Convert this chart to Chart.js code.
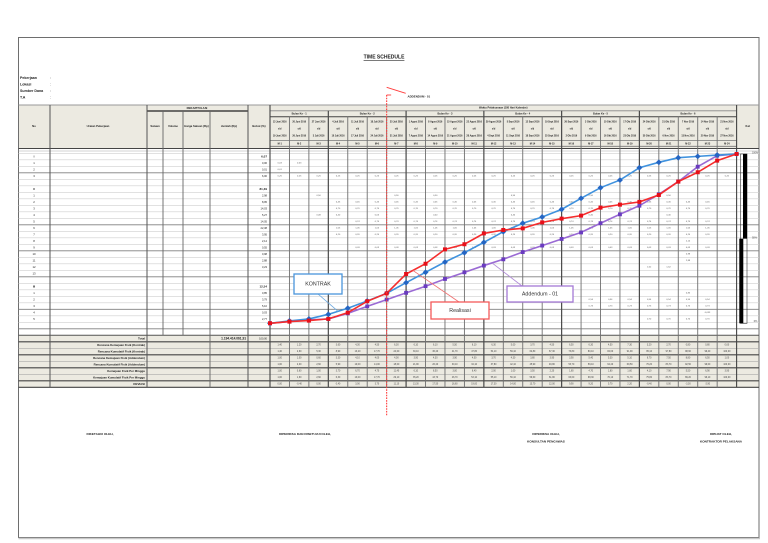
<!DOCTYPE html>
<html><head><meta charset="utf-8"><title>Time Schedule</title>
<script src="https://cdn.jsdelivr.net/npm/chart.js@4.4.1/dist/chart.umd.min.js"></script>
<style>
html,body{margin:0;padding:0;background:#fff;overflow:hidden;}
canvas{display:block;}
</style></head><body>
<canvas id="c" width="768" height="543"></canvas>
<script>
// ---------- DATA ----------
const weekLabels = ["M-1","M-2","M-3","M-4","M-5","M-6","M-7","M-8","M-9","M-10","M-11","M-12","M-13","M-14","M-15","M-16","M-17","M-18","M-19","M-20","M-21","M-22","M-23","M-24"];
const weekStart = ["13 Juni 2016","20 Juni 2016","27 Juni 2016","4 Juli 2016","11 Juli 2016","18 Juli 2016","25 Juli 2016","1 Agust 2016","8 Agust 2016","15 Agust 2016","22 Agust 2016","29 Agust 2016","5 Sept 2016","12 Sept 2016","19 Sept 2016","26 Sept 2016","3 Okt 2016","10 Okt 2016","17 Okt 2016","24 Okt 2016","31 Okt 2016","7 Nov 2016","14 Nov 2016","21 Nov 2016"];
const weekEnd = ["19 Juni 2016","26 Juni 2016","3 Juli 2016","10 Juli 2016","17 Juli 2016","24 Juli 2016","31 Juli 2016","7 Agust 2016","14 Agust 2016","21 Agust 2016","28 Agust 2016","4 Sept 2016","11 Sept 2016","18 Sept 2016","25 Sept 2016","2 Okt 2016","9 Okt 2016","16 Okt 2016","23 Okt 2016","30 Okt 2016","6 Nov 2016","13 Nov 2016","20 Nov 2016","27 Nov 2016"];
const monthLabels = ["Bulan Ke - 1","Bulan Ke - 2","Bulan Ke - 3","Bulan Ke - 4","Bulan Ke - 5","Bulan Ke - 6"];
const monthWeeks = [3,4,4,4,4,5];

// cumulative progress (%) at week boundaries 0..24
const kontrak   = [0,1.4,2.6,5.3,8.9,13.2,17.7,24.0,30.1,36.2,41.7,47.8,54.1,59.1,62.8,67.3,73.8,80.1,84.6,91.9,95.1,97.8,98.6,99.4,100];
const addendum  = [0,1.0,2.0,2.6,5.9,10.0,14.0,18.0,21.9,26.2,30.1,34.1,37.8,42.1,45.9,49.8,53.7,59.1,64.4,69.5,76.2,83.7,92.5,99.0,100];
const realisasi = [0,1.0,1.6,2.6,6.3,13.0,17.7,29.1,35.2,43.7,46.7,53.1,55.1,56.1,59.6,61.8,63.6,68.3,70.1,71.7,75.8,83.7,89.2,96.1,100];

const infoLabels = ["Pekerjaan","Lokasi","Sumber Dana","T.A"];
const colHeaders = ["No","Uraian Pekerjaan","Satuan","Volume","Harga Satuan (Rp)","Jumlah (Rp)","Bobot (%)"];
const rowNumbers = ["I","1","2","3","","II","1","2","3","4","5","6","7","8","9","10","11","12","13","","III","1","2","3","4","5","",""];
const rowBobot   = ["6,07","0,06","0,01","6,00","","81,39","2,98","8,95","14,03","5,27","14,05","22,38","3,95","2,14","0,55","0,98","2,88","3,23","","","12,54","0,85","3,79","5,10","0,03","2,77","",""];
const groupRows = [0,5,20];
// [row, first week, last week, value] of the small weekly cells
const itemCells = [
 [1,0,1,"0,03"],[2,0,0,"0,01"],[3,0,23,"0,25"],
 [6,2,2,"0,50"],[6,6,6,"0,50"],[6,8,8,"0,50"],[6,12,12,"0,50"],[6,16,16,"0,50"],[6,20,20,"0,50"],
 [7,3,22,"0,45"],[8,3,22,"0,70"],
 [9,2,2,"0,08"],[9,3,3,"0,40"],[9,5,5,"0,03"],[9,8,8,"0,40"],[9,12,12,"0,40"],[9,16,16,"0,40"],[9,20,20,"0,40"],
 [10,4,22,"0,74"],[11,3,22,"1,05"],[12,3,22,"0,20"],[13,21,21,"2,14"],[14,4,22,"0,03"],
 [15,21,21,"0,98"],[16,21,21,"2,88"],[17,19,20,"1,62"],
 [21,21,21,"0,85"],[22,16,22,"0,54"],[23,16,22,"0,73"],[24,22,22,"0,033"],[25,19,22,"0,70"]
];
const bottomLabels = ["Rencana Kemajuan Fisik (Kontrak)","Rencana Kumulatif Fisik (Kontrak)","Rencana Kemajuan Fisik (Addendum)","Rencana Kumulatif Fisik (Addendum)","Kemajuan Fisik Per Minggu","Kemajuan Kumulatif Fisik Per Minggu","DEVIASI"];
const totalJumlah = "1.194.414.061,91";
const totalBobot = "100,00";
const signLines1 = ["DIKETAHUI OLEH,","DIPERIKSA DAN DISETUJUI OLEH,","DIPERIKSA OLEH,","DIBUAT OLEH,"];
const signLines2 = ["","","KONSULTAN PENGAWAS","KONTRAKTOR PELAKSANA"];

// ---------- DRAWING HELPERS ----------
const FONT = '"Liberation Sans", Arial, sans-serif';
const L=18.5, R=759, TOP=37.5, BOT=537.5;
const HT=105, HB=148.5, BT=153.3, RH=6.5, NR=28;
function txt(ctx,s,x,y,size,o){
  o=o||{}; ctx.save();
  ctx.font=(o.bold?'bold ':'')+size+'px '+FONT;
  ctx.fillStyle=o.color||'#222';
  ctx.textAlign=o.align||'center'; ctx.textBaseline='middle';
  ctx.fillText(s,x,y);
  if(o.underline){const w=ctx.measureText(s).width;const x0=o.align==='left'?x:(o.align==='right'?x-w:x-w/2);ctx.fillRect(x0,y+size*0.6,w,0.6);}
  ctx.restore();
}
function ln(ctx,x1,y1,x2,y2,c,w,d){
  ctx.save(); ctx.strokeStyle=c; ctx.lineWidth=w; if(d)ctx.setLineDash(d);
  ctx.beginPath(); ctx.moveTo(x1,y1); ctx.lineTo(x2,y2); ctx.stroke(); ctx.restore();
}
const fmt = v => (Math.abs(v)<0.005?0:v).toFixed(2).replace('.',',');

const sheet = {
  id:'sheet',
  beforeDraw(chart){
    const ctx=chart.ctx, xs=chart.scales.x;
    const X=v=>xs.getPixelForValue(v);
    const nW=weekLabels.length, WL=X(0), WR=X(nW);
    const TB=BT+NR*RH, TE=TB+RH*(1+bottomLabels.length);
    ctx.save();
    ctx.fillStyle='#fff'; ctx.fillRect(0,0,768,543);
    ctx.fillStyle='#eceae1';
    ctx.fillRect(L,HT,R-L,HB-HT);
    ctx.fillRect(L,TB,R-L,TE-TB);
    ctx.restore();

    // title & info
    txt(ctx,'TIME SCHEDULE',384,57,5,{bold:true,underline:true});
    infoLabels.forEach((s,i)=>{
      txt(ctx,s,20,78+i*6.5,3.6,{bold:true,align:'left'});
      txt(ctx,':',50,78+i*6.5,3.6,{align:'left'});
    });

    // header texts
    const hx=[34,98,155,173,196.5,229,259];
    colHeaders.forEach((s,i)=>txt(ctx,s,hx[i],126,2.8,{bold:true}));
    txt(ctx,'REKAPITULASI',197,108,2.8,{bold:true});
    txt(ctx,'Waktu Pelaksanaan (180 Hari Kalender)',(WL+WR)/2,108,2.6,{bold:true});
    let m0=0;
    monthLabels.forEach((s,i)=>{txt(ctx,s,(X(m0)+X(m0+monthWeeks[i]))/2,114,2.6,{bold:true}); m0+=monthWeeks[i];});
    for(let i=0;i<nW;i++){
      const cx=(X(i)+X(i+1))/2;
      txt(ctx,weekStart[i],cx,122,2.3,{bold:true});
      txt(ctx,'s/d',cx,129,2.3,{bold:true});
      txt(ctx,weekEnd[i],cx,136,2.3,{bold:true});
      txt(ctx,weekLabels[i],cx,143.8,2.4,{bold:true});
    }
    txt(ctx,'Ket',(WR+R)/2,126,2.8,{bold:true});

    // body rows text
    rowNumbers.forEach((s,i)=>{
      const cy=BT+(i+0.5)*RH, g=groupRows.includes(i);
      txt(ctx,s,34,cy,2.8,{bold:g});
      if(rowBobot[i]) txt(ctx,rowBobot[i],267,cy,g?3:2.6,{bold:g,align:'right'});
    });
    itemCells.forEach(([r,a,b,v])=>{
      const cy=BT+(r+0.5)*RH;
      for(let c=a;c<=b;c++) txt(ctx,v,(X(c)+X(c+1))/2,cy,2.2,{color:'#555'});
    });

    // total & bottom table
    txt(ctx,'Total',145,TB+RH/2,3,{bold:true,align:'right'});
    txt(ctx,totalJumlah,246,TB+RH/2,3.2,{bold:true,align:'right'});
    txt(ctx,totalBobot,267,TB+RH/2,2.6,{align:'right'});
    const rows=[[],[],[],[],[],[],[]];
    for(let i=0;i<nW;i++){
      rows[0].push(fmt(kontrak[i+1]-kontrak[i]));
      rows[1].push(fmt(kontrak[i+1]));
      rows[2].push(fmt(addendum[i+1]-addendum[i]));
      rows[3].push(fmt(addendum[i+1]));
      rows[4].push(fmt(realisasi[i+1]-realisasi[i]));
      rows[5].push(fmt(realisasi[i+1]));
      rows[6].push(i<nW-1?fmt(realisasi[i+1]-addendum[i+1]):"");
    }
    bottomLabels.forEach((s,j)=>{
      const cy=TB+RH*(j+1.5);
      txt(ctx,s,145,cy,2.9,{bold:true,align:'right'});
      rows[j].forEach((v,i)=>txt(ctx,v,(X(i)+X(i+1))/2,cy,2.3,{color:'#444'}));
    });

    // signatures
    const sx=[100,305,546,721];
    signLines1.forEach((s,i)=>{txt(ctx,s,sx[i],434,3.1,{bold:true}); if(signLines2[i]) txt(ctx,signLines2[i],sx[i],441.7,3.1,{bold:true});});

    // ---------- grid lines ----------
    ctx.save(); ctx.strokeStyle='#6e6e6e'; ctx.lineWidth=1; ctx.strokeRect(L,TOP,R-L,BOT-TOP); ctx.restore();
    ln(ctx,L,BOT+1,R+1,BOT+1,'#c9c9c9',1.5);
    ln(ctx,L,HT,R,HT,'#999',1);
    ln(ctx,147,111,248,111,'#222',1.2);
    ln(ctx,WL,110.8,WR,110.8,'#888',0.8);
    ln(ctx,WL,116.8,WR,116.8,'#444',1);
    ln(ctx,WL,140.5,WR,140.5,'#777',0.8);
    ln(ctx,WL,146.3,WR,146.3,'#777',0.8);
    ln(ctx,L,HB,R,HB,'#444',1.1);
    ln(ctx,L,151,R,151,'#aaa',0.6);
    const darkRows=[3,11,15,19,24,27];
    for(let k=0;k<NR;k++){
      const y=BT+k*RH, d=darkRows.includes(k);
      ln(ctx,L,y,R,y,d?'#808080':'#d0d0d0',d?0.9:0.6);
    }
    ln(ctx,L,TB,R,TB,'#555',1);
    const thick=[1,3,5,7];
    for(let j=1;j<=bottomLabels.length+1;j++){
      const y=TB+RH*j, t=thick.includes(j)||j===bottomLabels.length+1;
      ln(ctx,L,y,R,y,t?'#444':'#aaa',t?1.1:0.6);
    }
    [50,147,248].forEach(x=>ln(ctx,x,HT,x,TE,'#555',1));
    [163,183].forEach(x=>ln(ctx,x,111,x,TB,'#666',0.9));
    ln(ctx,210,111,210,TE,'#666',0.9);
    ln(ctx,WL,HT,WL,TE,'#444',1.1);
    ln(ctx,WR,HT,WR,TE,'#444',1.1);
    let mb=0; const monthB=[];
    monthWeeks.forEach(w=>{mb+=w; monthB.push(mb);});
    for(let k=1;k<nW;k++){
      const isM=monthB.includes(k);
      ln(ctx,X(k),isM?110.8:116.8,X(k),TE,isM?'#4a4a4a':'#707070',isM?1.2:0.9);
    }
  },
  afterDatasetsDraw(chart){
    const ctx=chart.ctx, xs=chart.scales.x, ys=chart.scales.y;
    const X=v=>xs.getPixelForValue(v), Y=v=>ys.getPixelForValue(v);
    const xa=X(6);
    ln(ctx,xa,95,xa,416,'#ff3c3c',1.1,[1.6,1.1]);
    ln(ctx,xa,87.3,405.7,93.3,'#ff3c3c',0.9);
    ln(ctx,xa,95,xa+4.5,95,'#ff3c3c',0.9);
    txt(ctx,'ADDENDUM - 01',407.5,96.7,2.9,{bold:true,align:'left'});
    const at=(arr,v)=>{const i=Math.floor(v),f=v-i;return arr[i]+(arr[i+1]-arr[i])*f;};
    const callouts=[
      {t:'KONTRAK',x:294,y:274,w:48,h:20,c:'#4a95dc',lc:'#6aa8e0',from:[318,294],to:[3.5,at(kontrak,3.5)]},
      {t:'Realisasi',x:431,y:302,w:58,h:17,c:'#f55a5a',lc:'#f07070',from:[459,302],to:[7.35,at(realisasi,7.35)]},
      {t:'Addendum - 01',x:507,y:286,w:66,h:16,c:'#a57ad6',lc:'#b08ad8',from:[522,286],to:[11.42,at(addendum,11.42)]}
    ];
    callouts.forEach(o=>{
      ln(ctx,o.from[0],o.from[1],X(o.to[0]),Y(o.to[1]),o.lc,0.8);
      ctx.save(); ctx.fillStyle='#fff'; ctx.fillRect(o.x,o.y,o.w,o.h);
      ctx.strokeStyle=o.c; ctx.lineWidth=1.3; ctx.strokeRect(o.x,o.y,o.w,o.h); ctx.restore();
      txt(ctx,o.t,o.x+o.w/2,o.y+o.h/2,5.3,{color:'#333'});
    });
    ctx.save();
    ctx.strokeStyle='#333'; ctx.lineWidth=0.6;
    ctx.strokeRect(740.5,Y(100),6.5,Y(0)-Y(100));
    ctx.fillStyle='#000';
    ctx.fillRect(743,Y(100),4,Y(50)-Y(100));
    ctx.fillRect(739.3,Y(50),4,Y(0)-Y(50));
    ctx.restore();
    txt(ctx,'100%',755,Y(100)-1,2.4,{color:'#444'});
    txt(ctx,'50%',754.5,Y(50)-1,2.4,{color:'#444'});
    txt(ctx,'0%',755.5,Y(0)-2,2.4,{color:'#444'});
  }
};

const pts = arr => arr.map((v,i)=>({x:i,y:v}));
new Chart(document.getElementById('c'),{
  type:'line',
  data:{datasets:[
    {label:'Realisasi',data:pts(realisasi),borderColor:'#f52d2d',backgroundColor:'#e8101a',pointBorderColor:'#e8101a',borderWidth:1.6,pointStyle:'rect',pointRadius:1.7,clip:false,tension:0},
    {label:'Kontrak',data:pts(kontrak),borderColor:'#3f92de',backgroundColor:'#2566c4',pointBorderColor:'#2566c4',borderWidth:1.6,pointStyle:'rectRot',pointRadius:1.8,clip:false,tension:0},
    {label:'Addendum - 01',data:pts(addendum),borderColor:'#9a6ad4',backgroundColor:'#6a3cc0',pointBorderColor:'#6a3cc0',borderWidth:1.6,pointStyle:'rect',pointRadius:1.6,clip:false,tension:0}
  ]},
  options:{
    responsive:false, animation:false, devicePixelRatio:2,
    layout:{autoPadding:false,padding:{left:270,right:31.4,top:154,bottom:219.7}},
    scales:{
      x:{type:'linear',min:0,max:24,display:false},
      y:{min:0,max:100,display:false}
    },
    plugins:{legend:{display:false},tooltip:{enabled:false}},
    events:[]
  },
  plugins:[sheet]
});
</script>
</body></html>
